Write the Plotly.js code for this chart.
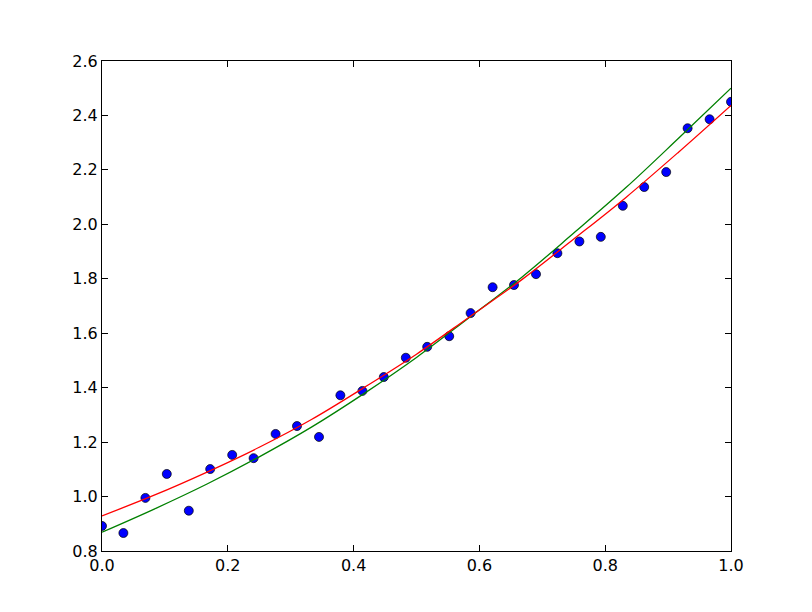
<!DOCTYPE html>
<html>
<head>
<meta charset="utf-8">
<script src="https://cdn.plot.ly/plotly-3.0.1.min.js"></script>
<style>html,body{margin:0;padding:0;background:#fff;}#chart{width:812px;height:612px;}</style>
</head>
<body>
<div id="chart"></div>
<script>
// Data points
var pointX = [0.000, 0.034, 0.069, 0.103, 0.138, 0.172, 0.207, 0.241, 0.276, 0.310,
              0.345, 0.379, 0.414, 0.448, 0.483, 0.517, 0.552, 0.586, 0.621, 0.655,
              0.690, 0.724, 0.759, 0.793, 0.828, 0.862, 0.897, 0.931, 0.966, 1.000];
var pointY = [0.892, 0.866, 0.995, 1.083, 0.948, 1.101, 1.153, 1.141, 1.230, 1.259,
              1.219, 1.372, 1.388, 1.439, 1.510, 1.550, 1.589, 1.674, 1.769, 1.777,
              1.817, 1.894, 1.937, 1.954, 2.068, 2.137, 2.192, 2.353, 2.386, 2.450];

// Fitted curves
var curveX = [0.000, 0.083, 0.167, 0.250, 0.333, 0.417, 0.500, 0.583, 0.667, 0.750, 0.833, 0.917, 1.000];
var redY   = [0.929, 1.005, 1.090, 1.181, 1.283, 1.401, 1.523, 1.658, 1.796, 1.946, 2.099, 2.266, 2.437];
var greenY = [0.869, 0.954, 1.046, 1.146, 1.255, 1.379, 1.511, 1.656, 1.805, 1.968, 2.135, 2.317, 2.500];

var traces = [
  {x: pointX, y: pointY, type: 'scatter', mode: 'markers',
   marker: {color: '#0000ff', size: 9, line: {color: '#000000', width: 0.7}},
   cliponaxis: true, showlegend: false},
  {x: curveX, y: greenY, type: 'scatter', mode: 'lines',
   line: {color: '#008000', width: 1.3, shape: 'spline', smoothing: 1}, showlegend: false},
  {x: curveX, y: redY, type: 'scatter', mode: 'lines',
   line: {color: '#ff0000', width: 1.3, shape: 'spline', smoothing: 1}, showlegend: false}
];

var axisCommon = {
  showline: true, linecolor: '#000000', linewidth: 1, mirror: 'ticks',
  ticks: 'inside', ticklen: 6, tickwidth: 1, tickcolor: '#000000',
  showgrid: false, zeroline: false,
  tickfont: {family: 'DejaVu Sans', size: 16, color: '#000000'},
  tickformat: '.1f', dtick: 0.2
};

var layout = {
  width: 812, height: 612,
  margin: {l: 102, r: 81, t: 61, b: 61, pad: 0},
  paper_bgcolor: '#ffffff', plot_bgcolor: '#ffffff',
  xaxis: Object.assign({}, axisCommon, {range: [0, 1], tick0: 0}),
  yaxis: Object.assign({}, axisCommon, {range: [0.8, 2.6], tick0: 0.8}),
  showlegend: false
};

Plotly.newPlot('chart', traces, layout, {staticPlot: true, displayModeBar: false});
</script>
</body>
</html>
